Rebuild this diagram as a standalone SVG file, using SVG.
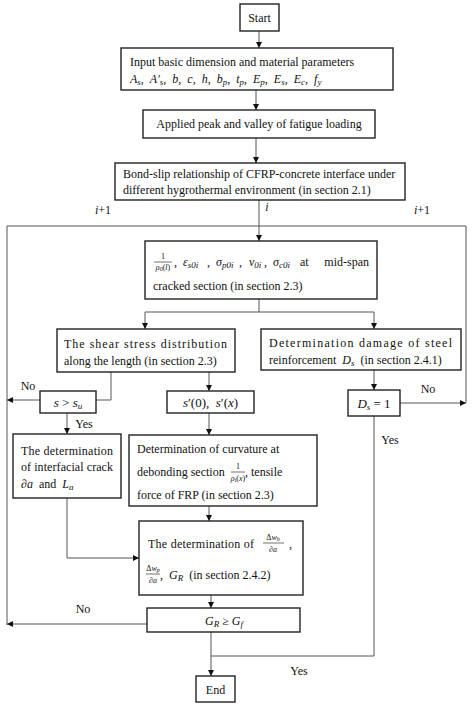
<svg xmlns="http://www.w3.org/2000/svg" width="474" height="708" viewBox="0 0 474 708">
<defs>
<marker id="ah" markerUnits="userSpaceOnUse" markerWidth="7" markerHeight="7" refX="6" refY="3" orient="auto">
<path d="M0,0 L6,3 L0,6 z" fill="#111"/>
</marker>
<style>
.box{fill:#fff;stroke:#222;stroke-width:1.4}
.con{fill:none;stroke:#555;stroke-width:1}
.arr{fill:none;stroke:#555;stroke-width:1;marker-end:url(#ah)}
text{font-family:"Liberation Serif","Times New Roman",serif;font-size:12px;fill:#111;white-space:pre}
.m{font-style:italic}
.big{font-size:13px}
.sm{font-size:8px}
.sb{font-size:9px}
.c{text-anchor:middle}
.bar{stroke:#111;stroke-width:0.6}
</style>
</defs>
<rect width="474" height="708" fill="#fff"/>

<g id="connectors">
<path class="arr" d="M259,31 V48"/>
<path class="arr" d="M256,90 V110"/>
<path class="arr" d="M256,138 V163"/>
<path class="arr" d="M259,200 V241"/>
<path class="con" d="M7,625 V226 H466 V403"/>
<path class="arr" d="M40,400 H7"/>
<path class="arr" d="M147,624 H7"/>
<path class="arr" d="M400,403 H466"/>
<path class="con" d="M259,299 V312"/>
<path class="con" d="M145,312 H374"/>
<path class="arr" d="M145,312 V329"/>
<path class="arr" d="M374,312 V329"/>
<path class="con" d="M111,372 V400 H96"/>
<path class="arr" d="M209,372 V391"/>
<path class="arr" d="M67,413 V434"/>
<path class="arr" d="M209,413 V435"/>
<path class="arr" d="M67,498 V558 H139"/>
<path class="arr" d="M209,506 V521"/>
<path class="arr" d="M374,370 V390"/>
<path class="arr" d="M211,595 V608"/>
<path class="arr" d="M211,632 V676"/>
<path class="con" d="M374,416 V656 H211"/>
<text x="103" y="214" class="c"><tspan class="m">i</tspan>+1</text>
<text x="422" y="214" class="c"><tspan class="m">i</tspan>+1</text>
<text x="267" y="211" class="m c">i</text>
<text x="28" y="390" class="c">No</text>
<text x="84" y="428" class="c">Yes</text>
<text x="428" y="393" class="c">No</text>
<text x="390" y="444" class="c">Yes</text>
<text x="83" y="613" class="c">No</text>
<text x="299" y="675" class="c">Yes</text>
</g>

<g id="start">
<rect class="box" x="240" y="4" width="39" height="27"/>
<text x="259.5" y="22" class="c">Start</text>
</g>

<g id="input">
<rect class="box" x="121" y="48" width="272" height="42"/>
<text x="130" y="66">Input basic dimension and material parameters</text>
<text x="130" y="83" class="m">A<tspan class="sb" dy="2">s</tspan><tspan dy="-2" font-style="normal">,  </tspan>A′<tspan class="sb" dy="2">s</tspan><tspan dy="-2" font-style="normal">,  </tspan>b<tspan font-style="normal">,  </tspan>c<tspan font-style="normal">,  </tspan>h<tspan font-style="normal">,  </tspan>b<tspan class="sb" dy="2">p</tspan><tspan dy="-2" font-style="normal">,  </tspan>t<tspan class="sb" dy="2">p</tspan><tspan dy="-2" font-style="normal">,  </tspan>E<tspan class="sb" dy="2">p</tspan><tspan dy="-2" font-style="normal">,  </tspan>E<tspan class="sb" dy="2">s</tspan><tspan dy="-2" font-style="normal">,  </tspan>E<tspan class="sb" dy="2">c</tspan><tspan dy="-2" font-style="normal">,  </tspan>f<tspan class="sb" dy="2">y</tspan></text>
</g>

<g id="applied">
<rect class="box" x="143" y="110" width="232" height="28"/>
<text x="259" y="128" class="c">Applied peak and valley of fatigue loading</text>
</g>

<g id="bondslip">
<rect class="box" x="115" y="163" width="290" height="37"/>
<text x="123" y="178">Bond-slip relationship of CFRP-concrete interface under</text>
<text x="123" y="194">different hygrothermal environment (in section 2.1)</text>
</g>

<g id="params">
<rect class="box" x="145" y="241" width="232" height="58"/>
<text x="163" y="259" class="sm c">1</text>
<line class="bar" x1="154" y1="262" x2="172" y2="262"/>
<text x="163" y="270" class="sm c m">ρ<tspan font-size="6" dy="1">0</tspan><tspan dy="-1" font-style="normal">(</tspan>l<tspan font-style="normal">)</tspan></text>
<text x="174" y="266">,</text>
<text x="183" y="266" class="m">ε<tspan class="sb" dy="2">s0i</tspan></text>
<text x="207" y="266">,</text>
<text x="216" y="266" class="m">σ<tspan class="sb" dy="2">p0i</tspan></text>
<text x="239" y="266">,</text>
<text x="249" y="266" class="m">ν<tspan class="sb" dy="2">0i</tspan></text>
<text x="264" y="266">,</text>
<text x="273" y="266" class="m">σ<tspan class="sb" dy="2">c0i</tspan></text>
<text x="300" y="266">at</text>
<text x="369" y="266" text-anchor="end">mid-span</text>
<text x="153" y="290">cracked section (in section 2.3)</text>
</g>

<g id="shear">
<rect class="box" x="57" y="329" width="178" height="43"/>
<text x="64" y="348" textLength="163" lengthAdjust="spacing">The shear stress distribution</text>
<text x="64" y="365">along the length (in section 2.3)</text>
</g>

<g id="damage">
<rect class="box" x="261" y="329" width="200" height="41"/>
<text x="269" y="347" textLength="183" lengthAdjust="spacing">Determination damage of steel</text>
<text x="269" y="364">reinforcement  <tspan class="m">D</tspan><tspan class="sb m" dy="2">s</tspan><tspan dy="-2">  (in section 2.4.1)</tspan></text>
</g>

<g id="s_su">
<rect class="box" x="40" y="391" width="56" height="22"/>
<text x="68" y="407" class="c big"><tspan class="m">s</tspan> &gt; <tspan class="m">s</tspan><tspan class="sb m" dy="2">u</tspan></text>
</g>

<g id="sprime">
<rect class="box" x="167" y="391" width="87" height="22"/>
<text x="210.5" y="407" class="c big"><tspan class="m">s</tspan>′(0),  <tspan class="m">s</tspan>′(<tspan class="m">x</tspan>)</text>
</g>

<g id="ds1">
<rect class="box" x="348" y="390" width="52" height="26"/>
<text x="374" y="408" class="c big"><tspan class="m">D</tspan><tspan class="sb m" dy="2">s</tspan><tspan dy="-2"> = 1</tspan></text>
</g>

<g id="crack">
<rect class="box" x="13" y="434" width="108" height="64"/>
<text x="21" y="455" textLength="92" lengthAdjust="spacing">The determination</text>
<text x="21" y="471" textLength="92" lengthAdjust="spacing">of interfacial crack</text>
<text x="21" y="488"><tspan class="m">∂a</tspan>  and  <tspan class="m">L</tspan><tspan class="sb m" dy="2">a</tspan></text>
</g>

<g id="curvature">
<rect class="box" x="129" y="435" width="188" height="71"/>
<text x="137" y="453">Determination of curvature at</text>
<text x="137" y="476">debonding section</text>
<text x="238" y="469" class="sm c">1</text>
<line class="bar" x1="231" y1="472" x2="245" y2="472"/>
<text x="238" y="481" class="sm c m">ρ<tspan font-size="6" dy="1">i</tspan><tspan dy="-1" font-style="normal">(</tspan>x<tspan font-style="normal">)</tspan></text>
<text x="245" y="476">, tensile</text>
<text x="137" y="499">force of FRP (in section 2.3)</text>
</g>

<g id="energy">
<rect class="box" x="139" y="521" width="164" height="74"/>
<text x="148" y="548" textLength="106" lengthAdjust="spacing">The determination of</text>
<text x="273" y="540" class="sm c">Δ<tspan class="m">w</tspan><tspan font-size="6" class="m" dy="1">b</tspan></text>
<line class="bar" x1="263" y1="543" x2="284" y2="543"/>
<text x="273" y="552" class="sm c m">∂a</text>
<text x="289" y="548">,</text>
<text x="153" y="571" class="sm c">Δ<tspan class="m">w</tspan><tspan font-size="6" class="m" dy="1">p</tspan></text>
<line class="bar" x1="146" y1="574" x2="160" y2="574"/>
<text x="153" y="583" class="sm c m">∂a</text>
<text x="160" y="579">,  <tspan class="m">G</tspan><tspan class="sb m" dy="2">R</tspan><tspan dy="-2">  (in section 2.4.2)</tspan></text>
</g>

<g id="check">
<rect class="box" x="147" y="608" width="153" height="24"/>
<text x="224" y="625" class="c"><tspan class="m">G</tspan><tspan class="sb m" dy="2">R</tspan><tspan dy="-2"> ≥ </tspan><tspan class="m">G</tspan><tspan class="sb m" dy="2">f</tspan></text>
</g>

<g id="end">
<rect class="box" x="196" y="676" width="39" height="26"/>
<text x="215.5" y="694" class="c">End</text>
</g>
</svg>
